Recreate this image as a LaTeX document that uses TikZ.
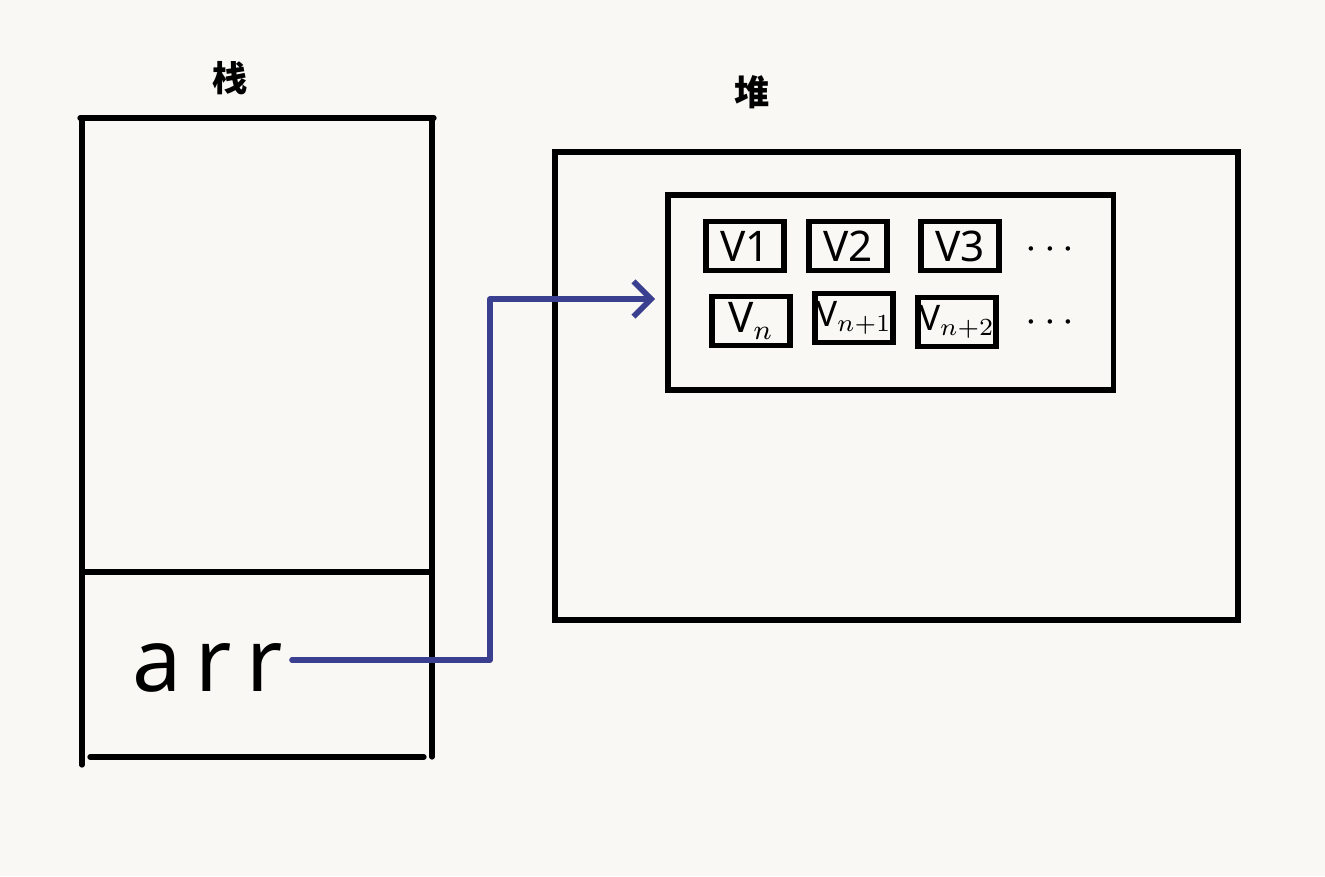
\documentclass[tikz,border=0pt]{standalone}
\usepackage{fontspec}
\usetikzlibrary{arrows.meta}
\setmainfont{Noto Sans}
\newfontfamily\cjk{Noto Sans CJK SC}
\definecolor{bgcol}{HTML}{FAF8F4}
\definecolor{arrcol}{HTML}{3A3F8F}
\begin{document}
\begin{tikzpicture}[x=0.01cm,y=-0.01cm,
  box/.style={draw,line width=1.5pt,line cap=round},
  cell/.style={draw,line width=1.5pt,minimum width=0.78cm,minimum height=0.49cm,inner sep=0pt,font=\large},
  subcell/.style={cell,font=\normalsize},
  lbl/.style={font=\cjk\bfseries}]
  \fill[bgcol] (0,0) rectangle (1325,876);
  \useasboundingbox (0,0) rectangle (1325,876);
  % stack
  \draw[box] (82,118) -- (82,765);
  \draw[box] (432,118) -- (432,757);
  \draw[box] (80,118) -- (434,118);
  \draw[box] (82,572) -- (432,572);
  \draw[box] (90,757) -- (424,757);
  \node[lbl] (stack) at (230,78) {栈};
  \node[font=\fontsize{25}{28}\selectfont, anchor=east, inner sep=0pt] (arr) at (284,668) {a\,r\,r};
  % heap
  \node[lbl] (heap) at (752,92) {堆};
  \draw[box] (555,152) rectangle (1238,620);
  \node[box,minimum width=4.45cm,minimum height=1.95cm,inner sep=0pt] (arrbox) at (890.5,292.5) {};
  \node[cell] (v1) at (745,246) {V1};
  \node[cell] (v2) at (848,246) {V2};
  \node[cell] (v3) at (960,246) {V3};
  \node (d1) at (1050,250) {\large $\cdots$};
  \node[cell] (vn) at (751,321) {V$_n$};
  \node[subcell] (vn1) at (854,318) {V$_{n+1}$};
  \node[subcell] (vn2) at (957,322) {V$_{n+2}$};
  \node (d2) at (1050,323) {\large $\cdots$};
  % pointer
  \coordinate (tip) at (655,299);
  \draw[arrcol,line width=1.6pt,line cap=round,line join=round,-{Straight Barb[length=5pt,width=10pt]}]
    (arr.east) ++(8,-8) -| (490,299) -- (tip);
\end{tikzpicture}
\end{document}
